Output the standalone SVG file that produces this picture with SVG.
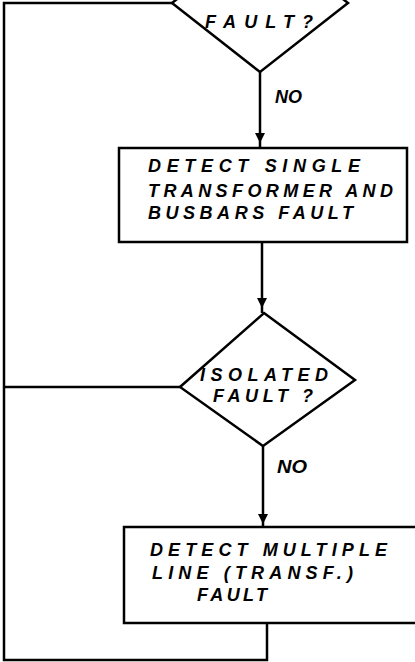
<svg xmlns="http://www.w3.org/2000/svg" width="415" height="662" viewBox="0 0 415 662">
<style>
.shape{fill:#fff;stroke:#000;stroke-width:2.5;stroke-linejoin:miter}
.wire{fill:none;stroke:#000;stroke-width:2.5}
.lbl{font-family:"Liberation Sans",Arial,sans-serif;font-style:italic;font-weight:bold;font-size:18px;fill:#000}
</style>
<defs>
<marker id="arr" viewBox="0 0 10 10" refX="10" refY="5" markerWidth="5" markerHeight="4" orient="auto" markerUnits="strokeWidth">
<path d="M0,0 L10,5 L0,10 Z" fill="#000"/>
</marker>
</defs>
<rect width="415" height="662" fill="#fff"/>
<g id="connectors">
<path class="wire" d="M172,3 H4 V660 H267 V623"/>
<path class="wire" d="M180,387 H4"/>
<path class="wire" d="M260,72 V143 V148" marker-mid="url(#arr)"/>
<path class="wire" d="M262,242 V308 V313" marker-mid="url(#arr)"/>
<path class="wire" d="M263,446 V524 V527" marker-mid="url(#arr)"/>
<text class="lbl" x="275" y="103" textLength="27" lengthAdjust="spacingAndGlyphs">NO</text>
<text class="lbl" x="277" y="473" textLength="30" lengthAdjust="spacingAndGlyphs">NO</text>
</g>
<g id="fault-decision">
<polygon class="shape" points="260,-66 348,3 260,72 172,3"/>
<text class="lbl" x="205" y="28" textLength="108" lengthAdjust="spacing">FAULT?</text>
</g>
<g id="detect-single">
<rect class="shape" x="119" y="148" width="288" height="94"/>
<text class="lbl" x="148" y="172" textLength="212" lengthAdjust="spacing">DETECT SINGLE</text>
<text class="lbl" x="148" y="197" textLength="245" lengthAdjust="spacing">TRANSFORMER AND</text>
<text class="lbl" x="148" y="219" textLength="205" lengthAdjust="spacing">BUSBARS FAULT</text>
</g>
<g id="isolated-decision">
<polygon class="shape" points="264,313 355,380 263,446 180,387"/>
<text class="lbl" x="200" y="381" textLength="128" lengthAdjust="spacing">ISOLATED</text>
<text class="lbl" x="213" y="402" textLength="100" lengthAdjust="spacing">FAULT ?</text>
</g>
<g id="detect-multiple">
<rect class="shape" x="124" y="527" width="300" height="96"/>
<text class="lbl" x="150" y="556" textLength="237" lengthAdjust="spacing">DETECT MULTIPLE</text>
<text class="lbl" x="152" y="579" textLength="201" lengthAdjust="spacing">LINE (TRANSF.)</text>
<text class="lbl" x="197" y="601" textLength="70" lengthAdjust="spacing">FAULT</text>
</g>
</svg>
